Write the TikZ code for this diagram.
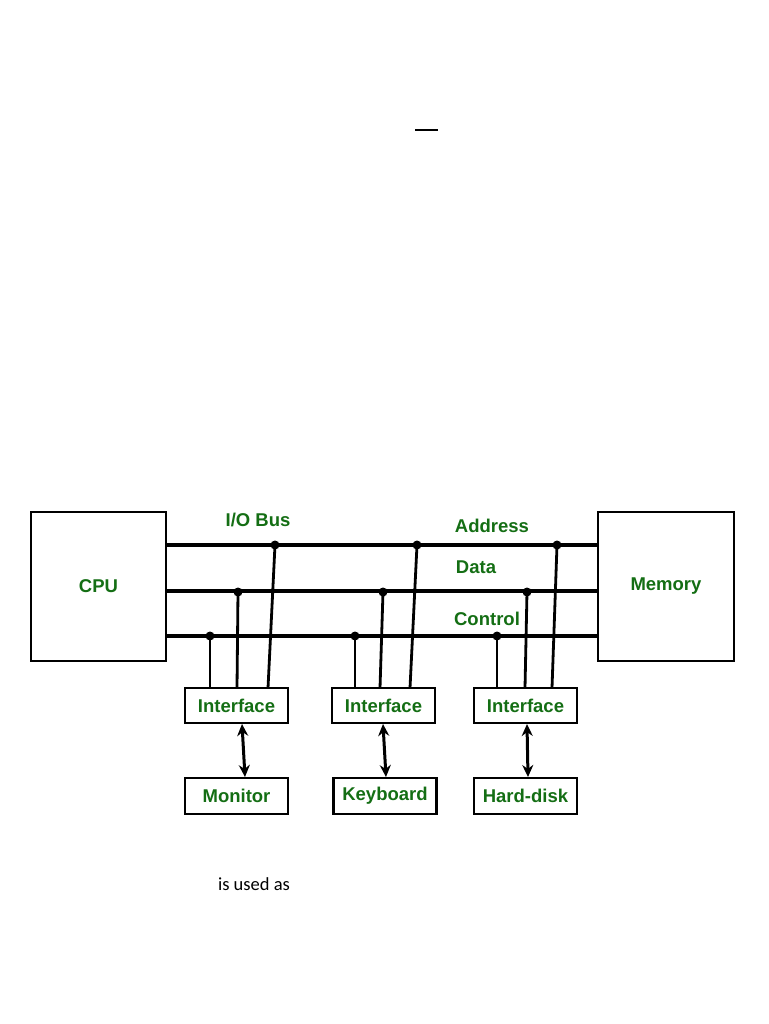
\documentclass[tikz,border=0pt]{standalone}
\usepackage{fontspec}
\setmainfont{Liberation Sans}
\newfontfamily\carlitofont{Carlito}
\usetikzlibrary{arrows.meta}
\definecolor{lbl}{RGB}{20,110,20}
\begin{document}
\begin{tikzpicture}[x=1pt,y=-1pt,
  box/.style={draw,line width=2.6pt,inner sep=0pt},
  txt/.style={text=lbl,font=\bfseries\fontsize{18.5}{21}\selectfont},
  bus/.style={line width=3.4pt},
  wire/.style={line width=2.8pt},
  dot/.style={circle,fill,inner sep=0pt,minimum size=9pt},
  dbl/.style={line width=3pt,{Stealth[length=12pt,width=11pt]}-{Stealth[length=12pt,width=11pt]}}]
\useasboundingbox (0,0) rectangle (768,1024);
\draw[line width=2pt] (415,130) -- (438,130);
\node[box,minimum width=135pt,minimum height=149pt,txt] (cpu) at (98.5,586.5) {CPU};
\node[box,minimum width=136pt,minimum height=149pt,txt] (mem) at (666,586.5) {Memory};
\coordinate (a1) at (166,545); \coordinate (a2) at (598,545);
\coordinate (d1) at (166,591); \coordinate (d2) at (598,591);
\coordinate (c1) at (166,636); \coordinate (c2) at (598,636);
\draw[bus] (a1) -- (a2); \draw[bus] (d1) -- (d2); \draw[bus] (c1) -- (c2);
\node[txt] (iob) at (258,520) {I/O Bus};
\node[txt] (adl) at (492,526) {Address};
\node[txt] (dal) at (476,567) {Data};
\node[txt] (col) at (487,619) {Control};
\foreach \i/\x/\dev/\dx/\cx/\dtx/\dbx/\atx/\abx/\ut/\ub in
  {1/236.5/Monitor/236.5/210/238/237/275/268/242/245,
   2/383.5/Keyboard/385/355/383/380/417/410/383/386,
   3/525.5/Hard-disk/525.5/497/527/525/557/552/527/528}{
  \node[box,minimum width=103pt,minimum height=35pt,txt] (if\i) at (\x,705.5) {Interface};
  \node[box,minimum width=103pt,minimum height=36pt,txt] (dv\i) at (\dx,796) {\dev};
  \node[dot] (cd\i) at (\cx,636) {};
  \node[dot] (dd\i) at (\dtx,592) {};
  \node[dot] (ad\i) at (\atx,545) {};
  \coordinate (cb\i) at (\cx,688);
  \coordinate (db\i) at (\dbx,688);
  \coordinate (ab\i) at (\abx,688);
  \draw[wire] (cd\i.center) -- (cb\i);
  \draw[wire] (dd\i.center) -- (db\i);
  \draw[wire] (ad\i.center) -- (ab\i);
  \coordinate (ut\i) at (\ut,724); \coordinate (ub\i) at (\ub,777);
  \draw[dbl] (ut\i) -- (ub\i);
}
\node[font=\carlitofont\fontsize{18.5}{21}\selectfont] (note) at (254,884) {is used as};
\end{tikzpicture}
\end{document}
